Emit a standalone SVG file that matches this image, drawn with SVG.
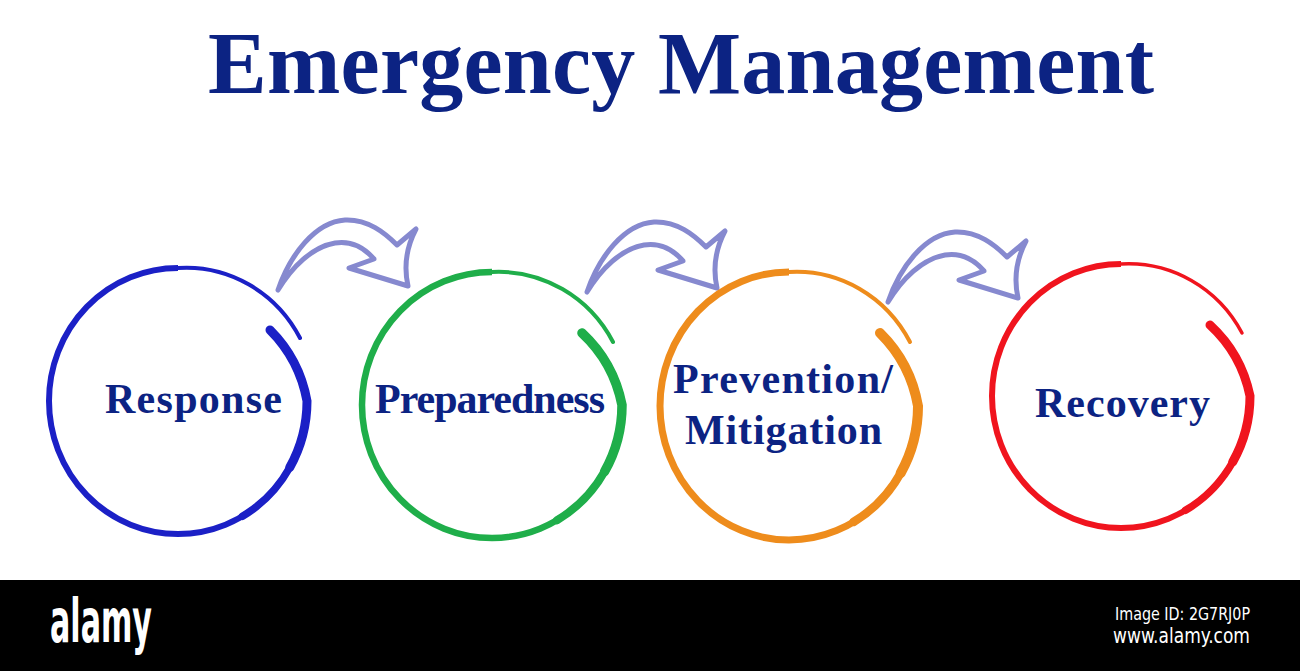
<svg xmlns="http://www.w3.org/2000/svg" width="1300" height="671" viewBox="0 0 1300 671">
<style>
.title{font-family:"Liberation Serif","Times New Roman",serif;font-weight:bold;fill:#0c2383}
.lbl{font-family:"Liberation Serif","Times New Roman",serif;font-weight:bold;fill:#0c2383;font-size:42px}
.ring{fill:none}
.main{stroke-linecap:butt}
.thick{stroke-linecap:round}
.tail{stroke-linecap:round}
.arrow{fill:none;stroke:#8689cf;stroke-width:5;stroke-linejoin:round}
.wm{font-family:"Liberation Sans Narrow","DejaVu Sans Condensed","Liberation Sans",sans-serif;fill:#ffffff}
</style>
<defs>
<path id="arr" d="M278 290 C290 255 315 222 345 220 C368 219 385 233 397 245 L416 229 C406 248 404 268 408 286 L349 268 L374 259 C362 245 348 241 335 243 C312 247 292 267 278 290 Z"/>
</defs>
<rect x="0" y="0" width="1300" height="671" fill="#ffffff"/>
<text class="title" x="208" y="93" font-size="88" textLength="946" lengthAdjust="spacing">Emergency Management</text>

<g id="connectors">
<use href="#arr" class="arrow"/>
<use href="#arr" class="arrow" transform="translate(309,2)"/>
<use href="#arr" class="arrow" transform="translate(610,12)"/>
</g>

<g id="response">
<g class="ring" stroke="#1b20c6">
<path class="main" d="M270 330 A129 133 0 0 1 307 401 A129 133 0 0 1 178 534 A129 133 0 0 1 49 401 A129 133 0 0 1 178 268" stroke-width="6"/>
<path class="thick" d="M270 330 A129 133 0 0 1 307 401 A129 133 0 0 1 242.5 516.2" stroke-width="7.5"/>
<path class="thick" d="M270 330 A129 133 0 0 1 307 401 A129 133 0 0 1 289.7 467.5" stroke-width="9"/>
<path class="tail" d="M178 268 A129 133 0 0 1 300 338" stroke-width="4"/>
</g>
<text class="lbl" x="105" y="413" textLength="177" lengthAdjust="spacing">Response</text>
</g>

<g id="preparedness">
<g class="ring" stroke="#1fae4a">
<path class="main" d="M582 333 A130 133 0 0 1 622 405 A130 133 0 0 1 492 538 A130 133 0 0 1 362 405 A130 133 0 0 1 492 272" stroke-width="6.5"/>
<path class="thick" d="M582 333 A130 133 0 0 1 622 405 A130 133 0 0 1 557 520.2" stroke-width="8"/>
<path class="thick" d="M582 333 A130 133 0 0 1 622 405 A130 133 0 0 1 604.6 471.5" stroke-width="9.5"/>
<path class="tail" d="M492 272 A130 133 0 0 1 613 342" stroke-width="4"/>
</g>
<text class="lbl" x="375" y="413" textLength="230" lengthAdjust="spacing">Preparedness</text>
</g>

<g id="prevention">
<g class="ring" stroke="#ee8c1c">
<path class="main" d="M880 333 A129 134 0 0 1 918 406 A129 134 0 0 1 789 540 A129 134 0 0 1 660 406 A129 134 0 0 1 789 272" stroke-width="7"/>
<path class="thick" d="M880 333 A129 134 0 0 1 918 406 A129 134 0 0 1 853.5 522" stroke-width="8.5"/>
<path class="thick" d="M880 333 A129 134 0 0 1 918 406 A129 134 0 0 1 900.7 473" stroke-width="10"/>
<path class="tail" d="M789 272 A129 134 0 0 1 910 342" stroke-width="4"/>
</g>
<text class="lbl" x="673" y="393" textLength="220" lengthAdjust="spacing">Prevention/</text>
<text class="lbl" x="685" y="444" textLength="197" lengthAdjust="spacing">Mitigation</text>
</g>

<g id="recovery">
<g class="ring" stroke="#f0141e">
<path class="main" d="M1210 325 A129 132 0 0 1 1250 396 A129 132 0 0 1 1121 528 A129 132 0 0 1 992 396 A129 132 0 0 1 1121 264" stroke-width="6"/>
<path class="thick" d="M1210 325 A129 132 0 0 1 1250 396 A129 132 0 0 1 1185.5 510.3" stroke-width="7.5"/>
<path class="thick" d="M1210 325 A129 132 0 0 1 1250 396 A129 132 0 0 1 1232.7 462" stroke-width="9"/>
<path class="tail" d="M1121 264 A129 132 0 0 1 1242 333" stroke-width="3.5"/>
</g>
<text class="lbl" x="1035" y="417" textLength="175" lengthAdjust="spacing">Recovery</text>
</g>

<g id="watermark">
<rect x="0" y="580" width="1300" height="91" fill="#000000"/>
<text class="wm" x="50" y="642" font-size="60" font-weight="bold" textLength="102" lengthAdjust="spacingAndGlyphs">alamy</text>
<text class="wm" x="1115" y="620" font-size="17" textLength="135" lengthAdjust="spacingAndGlyphs">Image ID: 2G7RJ0P</text>
<text class="wm" x="1113" y="643" font-size="21" textLength="137" lengthAdjust="spacingAndGlyphs">www.alamy.com</text>
</g>
</svg>
